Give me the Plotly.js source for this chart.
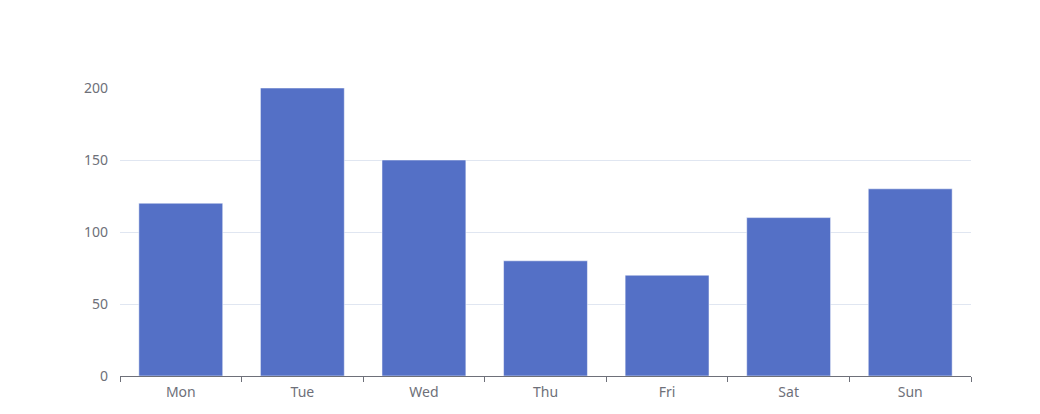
<!DOCTYPE html>
<html>
<head>
<meta charset="utf-8">
<script src="https://cdn.plot.ly/plotly-3.0.1.min.js"></script>
<style>html,body{margin:0;padding:0;background:#fff;}#chart{width:1040px;height:414px;}</style>
</head>
<body>
<div id="chart"></div>
<script>
const categories = ['Mon', 'Tue', 'Wed', 'Thu', 'Fri', 'Sat', 'Sun'];
const values = [120, 200, 150, 80, 70, 110, 130];
const yTicks = [0, 50, 100, 150, 200];

const trace = {
  type: 'bar',
  x: categories,
  y: values,
  marker: { color: '#5470c6', line: { color: 'rgba(255,255,255,0.5)', width: 1 } },
  hoverinfo: 'x+y'
};

const layout = {
  width: 1040,
  height: 414,
  margin: { l: 120, r: 69, t: 88, b: 38 },
  paper_bgcolor: '#fff',
  plot_bgcolor: '#fff',
  bargap: 0.31,
  showlegend: false,
  font: { family: 'Noto Sans, sans-serif', size: 14, color: '#6E7079' },
  xaxis: {
    type: 'category',
    showline: true,
    linecolor: '#6E7079',
    linewidth: 1,
    ticks: 'outside',
    tickson: 'boundaries',
    ticklen: 5,
    tickcolor: '#6E7079',
    showgrid: false,
    zeroline: false,
    tickfont: { size: 14, color: '#6E7079' },
    ticklabelstandoff: 3,
    fixedrange: true
  },
  yaxis: {
    range: [0, 200],
    tickvals: yTicks,
    showline: false,
    ticks: '',
    gridcolor: '#E0E6F1',
    gridwidth: 1,
    zeroline: false,
    tickfont: { size: 14, color: '#6E7079' },
    ticklabelstandoff: 11,
    fixedrange: true
  }
};

Plotly.newPlot('chart', [trace], layout, { displayModeBar: false, staticPlot: true });
</script>
</body>
</html>
